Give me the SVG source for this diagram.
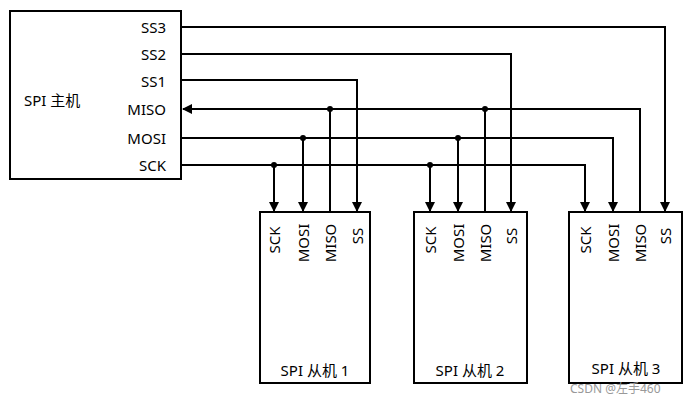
<svg xmlns="http://www.w3.org/2000/svg" width="697" height="401" viewBox="0 0 697 401">
<style>
.b{fill:#fff;stroke:#000;stroke-width:2}
.w{fill:none;stroke:#000;stroke-width:2}
text{font-family:"Noto Sans","Noto Sans CJK SC",sans-serif;font-size:15px;fill:#000}
.r{text-anchor:end}
.p{text-anchor:middle;dominant-baseline:central}
</style>
<defs>
<marker id="a" viewBox="0 0 10 10" refX="9" refY="5" markerWidth="5" markerHeight="5" orient="auto"><path d="M0,0L10,5L0,10z"/></marker>
</defs>
<rect width="697" height="401" fill="#fff"/>
<g id="master"><rect class="b" x="10" y="11" width="171" height="168"/>
<text x="24" y="106">SPI 主机</text>
<text class="r" x="166" y="33">SS3</text><text class="r" x="166" y="60">SS2</text><text class="r" x="166" y="87">SS1</text>
<text class="r" x="166" y="115">MISO</text><text class="r" x="166" y="144">MOSI</text><text class="r" x="166" y="171">SCK</text></g>
<g id="slave1"><rect class="b" x="260" y="212" width="110" height="171"/>
<text class="p" transform="translate(274,240) rotate(-90)">SCK</text><text class="p" transform="translate(303,243) rotate(-90)">MOSI</text><text class="p" transform="translate(330,243) rotate(-90)">MISO</text><text class="p" transform="translate(357,236) rotate(-90)">SS</text>
<text class="p" x="315" y="370">SPI 从机 1</text></g>
<g id="slave2"><rect class="b" x="414" y="212" width="113" height="171"/>
<text class="p" transform="translate(430,240) rotate(-90)">SCK</text><text class="p" transform="translate(458,243) rotate(-90)">MOSI</text><text class="p" transform="translate(485,243) rotate(-90)">MISO</text><text class="p" transform="translate(511,236) rotate(-90)">SS</text>
<text class="p" x="470" y="370">SPI 从机 2</text></g>
<g id="slave3"><rect class="b" x="569" y="212" width="113" height="171"/>
<text class="p" transform="translate(585,240) rotate(-90)">SCK</text><text class="p" transform="translate(613,243) rotate(-90)">MOSI</text><text class="p" transform="translate(640,243) rotate(-90)">MISO</text><text class="p" transform="translate(665,236) rotate(-90)">SS</text>
<text class="p" x="626" y="368">SPI 从机 3</text></g>
<g id="connectors">
<path class="w" marker-end="url(#a)" d="M181,27H665V211"/>
<path class="w" marker-end="url(#a)" d="M181,54H511V211"/>
<path class="w" marker-end="url(#a)" d="M181,80H357V211"/>
<path class="w" marker-end="url(#a)" d="M640,212V109H183"/>
<path class="w" d="M330,212V109M485,212V109"/>
<path class="w" marker-end="url(#a)" d="M181,138H613V211"/>
<path class="w" marker-end="url(#a)" d="M303,138V211"/>
<path class="w" marker-end="url(#a)" d="M458,138V211"/>
<path class="w" marker-end="url(#a)" d="M181,165H585V211"/>
<path class="w" marker-end="url(#a)" d="M274,165V211"/>
<path class="w" marker-end="url(#a)" d="M430,165V211"/>
<g fill="#000"><circle cx="330" cy="109" r="3"/><circle cx="485" cy="109" r="3"/><circle cx="303" cy="138" r="3"/><circle cx="458" cy="138" r="3"/><circle cx="274" cy="165" r="3"/><circle cx="430" cy="165" r="3"/></g>
</g>
<text x="570" y="393" style="font-size:12px;fill:#999">CSDN @左手460</text>
</svg>
